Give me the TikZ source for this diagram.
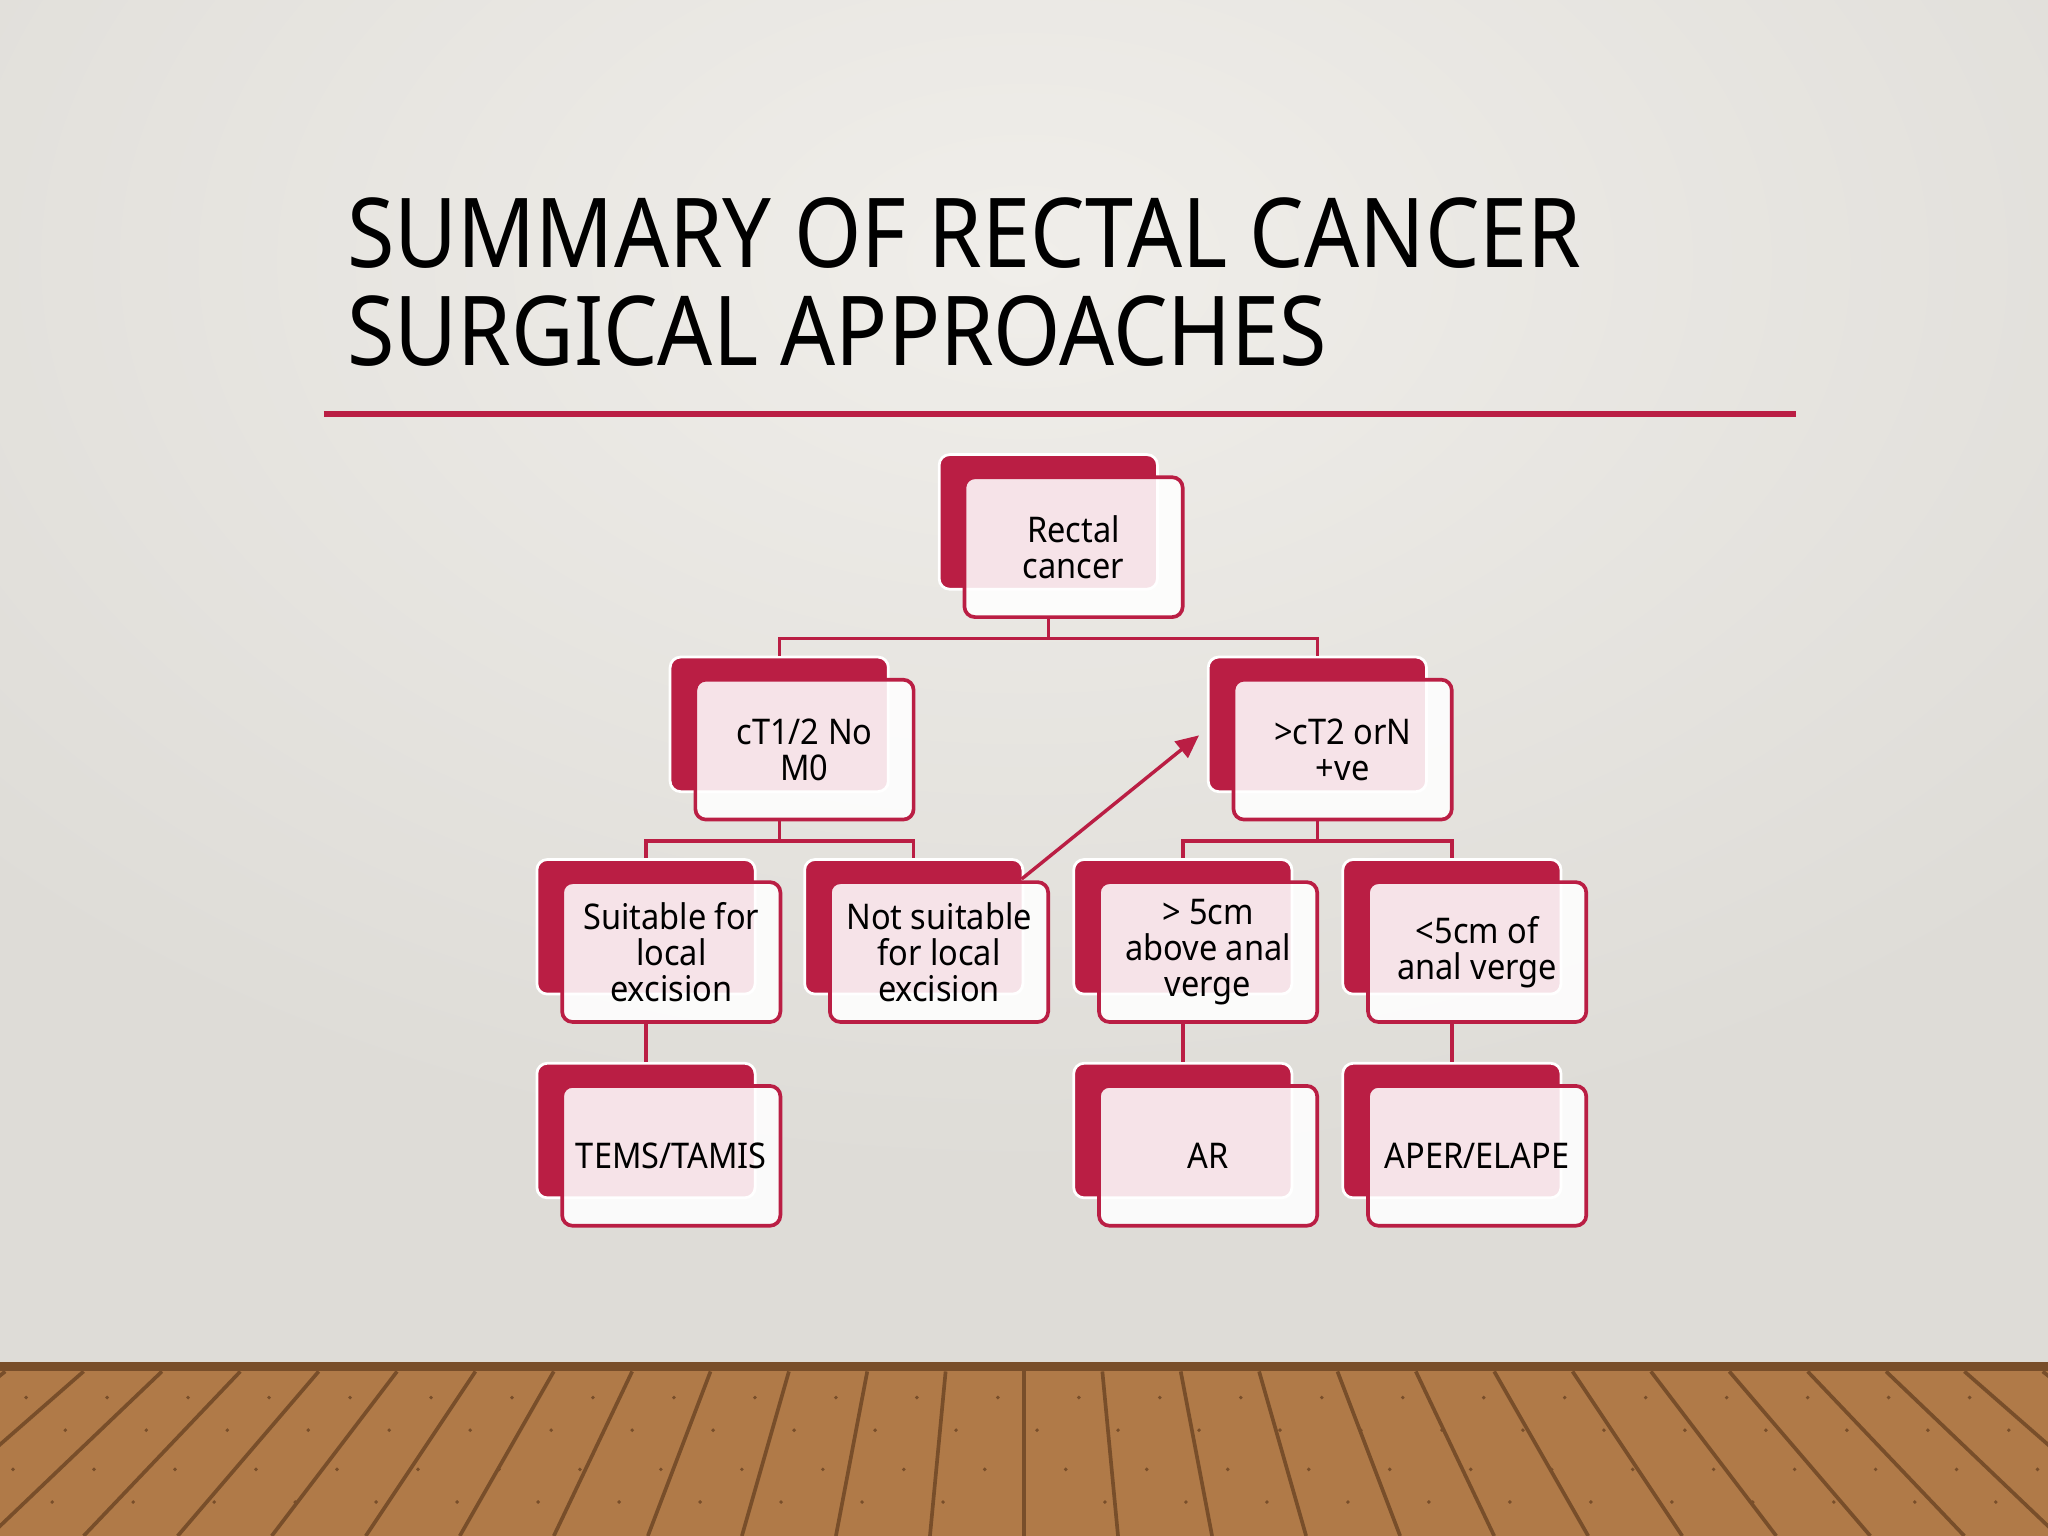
\documentclass[tikz,border=0pt]{standalone}
\usepackage{fontspec}
\setmainfont{Noto Sans}[FakeStretch=0.92]
\newfontfamily\ttlfont{Noto Sans}[FakeStretch=0.895]
\usetikzlibrary{arrows.meta}
\definecolor{crim}{RGB}{186,30,68}
\definecolor{wall}{RGB}{222,220,215}
\definecolor{wallc}{RGB}{240,238,234}
\definecolor{wood}{RGB}{176,122,72}
\definecolor{woodd}{RGB}{120,78,42}
\tikzset{
  back/.style={fill=crim,draw=white,line width=0.6pt,rounded corners=0.08cm,minimum width=1.67cm,minimum height=1.03cm,anchor=north west,inner sep=0pt},
  front/.style={fill=white,fill opacity=0.88,text opacity=1,draw=crim,line width=0.8pt,rounded corners=0.08cm,minimum width=1.67cm,minimum height=1.07cm,anchor=north west,inner sep=0pt},
  lbl/.style={align=center,font=\fontsize{7.7}{7.9}\selectfont,text=black},
  conn/.style={draw=crim,line width=0.75pt},
  ttl/.style={anchor=base west,font=\ttlfont\fontsize{21}{21}\selectfont,text=black,inner sep=0pt}
}
\newcommand\rbox[4]{%
  \node[back] (#1b) at (#2,#3) {};
  \node[front] (#1) at (#2+19,#3+17) {};
  \node[lbl] (#1t) at (#1.center) {#4};}
\begin{document}
\begin{tikzpicture}[x=0.01cm,y=-0.01cm]
\useasboundingbox (0,0) rectangle (1568,1176);
\fill[wall] (0,0) rectangle (1568,1050);
\shade[inner color=wallc,outer color=wall] (-300,-500) rectangle (1868,900);
\fill[wall] (0,900) rectangle (1568,1050);
\fill[wood] (0,1045) rectangle (1568,1176);
\fill[woodd] (0,1043) rectangle (1568,1050);
\foreach \i in {-8,...,24}{
  \draw[woodd,line width=0.8pt] (784+\i*60-480,1050) -- (784+\i*72-576,1176);
}
\foreach \y/\s in {1070/20,1095/50,1125/10,1150/40}{
  \foreach \i in {0,...,25}{
    \fill[woodd] (\s+\i*62,\y) circle (1.5);
  }
}
\node[ttl] (title) at (265,205) {SUMMARY OF RECTAL CANCER};
\node[ttl] (title2) at (265,280) {SURGICAL APPROACHES};
\coordinate (l1) at (248,317);
\coordinate (l2) at (1375,317);
\draw[crim,line width=1.3pt] (l1) -- (l2);

\rbox{rc}{718}{347}{Rectal\\cancer}
\rbox{ct}{512}{502}{cT1/2 No\\M0}
\rbox{gt}{924}{502}{>cT2 orN\\+ve}
\rbox{su}{410}{657}{Suitable for\\local\\excision}
\rbox{ns}{615}{657}{Not suitable\\for local\\excision}
\rbox{ab}{821}{657}{> 5cm\\above anal\\verge}
\rbox{lt}{1027}{657}{<5cm of\\anal verge}
\rbox{te}{410}{813}{TEMS/TAMIS}
\rbox{ar}{821}{813}{AR}
\rbox{ap}{1027}{813}{APER/ELAPE}

\draw[conn] (rcb.south |- rc.south) -- ++(0,15) -| (ctb.north);
\draw[conn] (rcb.south |- rc.south) -- ++(0,15) -| (gtb.north);
\draw[conn] (ctb.south |- ct.south) -- ++(0,15) -| (sub.north);
\draw[conn] (ctb.south |- ct.south) -- ++(0,15) -| (nsb.north);
\draw[conn] (gtb.south |- gt.south) -- ++(0,15) -| (abb.north);
\draw[conn] (gtb.south |- gt.south) -- ++(0,15) -| (ltb.north);
\draw[conn] (sub.south |- su.south) -- (teb.north);
\draw[conn] (abb.south |- ab.south) -- (arb.north);
\draw[conn] (ltb.south |- lt.south) -- (apb.north);
\draw[conn,-{Triangle[length=5pt,width=4.5pt]}] (nsb.north east) ++(-2,16) -- ([shift={(-6,61)}]gtb.north west);
\end{tikzpicture}
\end{document}
